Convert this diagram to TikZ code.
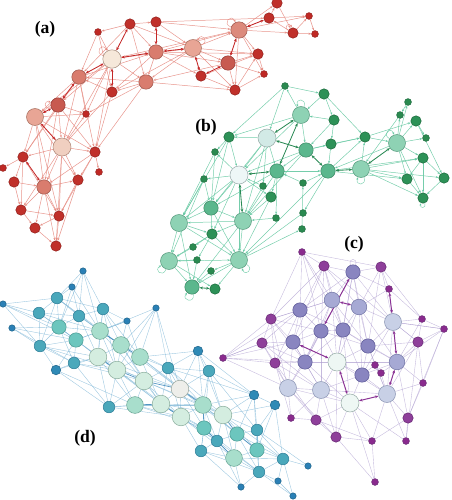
\documentclass[tikz,border=0pt]{standalone}
\usepackage{fontspec}
\setmainfont{Liberation Serif}
\usetikzlibrary{arrows.meta,backgrounds}
\definecolor{redline}{HTML}{E58A80}
\definecolor{redbold}{HTML}{C42828}
\definecolor{greenline}{HTML}{66C8A2}
\definecolor{greenbold}{HTML}{2A8A55}
\definecolor{purpleline}{HTML}{AD9CCF}
\definecolor{purplebold}{HTML}{8A3294}
\definecolor{blueline}{HTML}{73B0D3}
\definecolor{bluebold}{HTML}{3A86BA}
\begin{document}
\begin{tikzpicture}[x=0.05cm,y=-0.05cm]
\tikzstyle{base node}=[circle,inner sep=0pt,line width=0.8pt]
\tikzstyle{panel label}=[font=\bfseries\fontsize{25}{27}\selectfont]
\tikzset{
	red cream/.style={base node,fill={rgb,255:red,246;green,232;blue,218},draw={rgb,255:red,168;green,144;blue,128},minimum size=0.92cm},
	red peach/.style={base node,fill={rgb,255:red,240;green,207;blue,192},draw={rgb,255:red,176;green,136;blue,120},minimum size=0.9cm},
	red light/.style={base node,fill={rgb,255:red,232;green,165;blue,149},draw={rgb,255:red,168;green,112;blue,96},minimum size=0.85cm},
	red rose/.style={base node,fill={rgb,255:red,220;green,138;blue,124},draw={rgb,255:red,160;green,88;blue,78},minimum size=0.82cm},
	red salmon/.style={base node,fill={rgb,255:red,217;green,124;blue,110},draw={rgb,255:red,160;green,88;blue,78},minimum size=0.72cm},
	red brick/.style={base node,fill={rgb,255:red,200;green,90;blue,80},draw={rgb,255:red,150;green,60;blue,54},minimum size=0.72cm},
	red dark/.style={base node,fill={rgb,255:red,192;green,48;blue,42},draw={rgb,255:red,150;green,36;blue,32},minimum size=0.52cm},
	red tiny/.style={base node,fill={rgb,255:red,192;green,40;blue,36},draw={rgb,255:red,150;green,36;blue,32},minimum size=0.34cm},
	green white/.style={base node,fill={rgb,255:red,238;green,247;blue,247},draw={rgb,255:red,160;green,176;blue,176},minimum size=0.9cm},
	green pale/.style={base node,fill={rgb,255:red,210;green,234;blue,230},draw={rgb,255:red,152;green,172;blue,168},minimum size=0.9cm},
	green light/.style={base node,fill={rgb,255:red,142;green,210;blue,180},draw={rgb,255:red,90;green,156;blue,128},minimum size=0.85cm},
	green mid/.style={base node,fill={rgb,255:red,91;green,183;blue,141},draw={rgb,255:red,61;green,138;blue,102},minimum size=0.72cm},
	green dark/.style={base node,fill={rgb,255:red,45;green,145;blue,87},draw={rgb,255:red,31;green,110;blue,64},minimum size=0.52cm},
	green tiny/.style={base node,fill={rgb,255:red,42;green,138;blue,80},draw={rgb,255:red,31;green,110;blue,64},minimum size=0.34cm},
	purple white/.style={base node,fill={rgb,255:red,238;green,247;blue,244},draw={rgb,255:red,154;green,174;blue,170},minimum size=0.9cm},
	purple pale/.style={base node,fill={rgb,255:red,200;green,208;blue,230},draw={rgb,255:red,140;green,150;blue,180},minimum size=0.85cm},
	purple lav/.style={base node,fill={rgb,255:red,166;green,169;blue,212},draw={rgb,255:red,116;green,120;blue,168},minimum size=0.78cm},
	purple blue/.style={base node,fill={rgb,255:red,137;green,133;blue,192},draw={rgb,255:red,94;green,90;blue,152},minimum size=0.72cm},
	purple dark/.style={base node,fill={rgb,255:red,142;green,63;blue,154},draw={rgb,255:red,106;green,42;blue,118},minimum size=0.52cm},
	purple tiny/.style={base node,fill={rgb,255:red,138;green,42;blue,142},draw={rgb,255:red,106;green,42;blue,118},minimum size=0.34cm},
	blue white/.style={base node,fill={rgb,255:red,238;green,238;blue,234},draw={rgb,255:red,154;green,168;blue,160},minimum size=0.88cm},
	blue pale/.style={base node,fill={rgb,255:red,212;green,237;blue,224},draw={rgb,255:red,142;green,176;blue,160},minimum size=0.88cm},
	blue light/.style={base node,fill={rgb,255:red,168;green,222;blue,204},draw={rgb,255:red,110;green,168;blue,152},minimum size=0.84cm},
	blue teal/.style={base node,fill={rgb,255:red,108;green,198;blue,190},draw={rgb,255:red,74;green,154;blue,148},minimum size=0.72cm},
	blue mid/.style={base node,fill={rgb,255:red,74;green,168;blue,187},draw={rgb,255:red,48;green,128;blue,154},minimum size=0.58cm},
	blue dark/.style={base node,fill={rgb,255:red,47;green,138;blue,182},draw={rgb,255:red,34;green,104;blue,142},minimum size=0.48cm},
	blue tiny/.style={base node,fill={rgb,255:red,42;green,128;blue,182},draw={rgb,255:red,34;green,104;blue,142},minimum size=0.32cm},
	a edge/.style={draw=redline,draw opacity=0.9,line width=0.7pt,-{Stealth[length=4pt,width=3pt]}},
	a bold/.style={draw=redbold,line width=1.2pt,{Stealth[length=5pt,width=4pt]}-{Stealth[length=5pt,width=4pt]}},
	b edge/.style={draw=greenline,draw opacity=0.9,line width=0.7pt,-{Stealth[length=4pt,width=3pt]}},
	b bold/.style={draw=greenbold,line width=1.2pt,{Stealth[length=5pt,width=4pt]}-{Stealth[length=5pt,width=4pt]}},
	c edge/.style={draw=purpleline,draw opacity=0.7,line width=0.55pt},
	c bold/.style={draw=purplebold,line width=1.4pt,{Stealth[length=5pt,width=4pt]}-{Stealth[length=5pt,width=4pt]}},
	d edge/.style={draw=blueline,draw opacity=0.7,line width=0.55pt},
	d bold/.style={draw=bluebold,draw opacity=0.85,line width=1pt},
	self loop/.style={line width=0.6pt,looseness=4}
}
\useasboundingbox (0,0) rectangle (451,500);

\node[panel label] (la) at (45,29) {(a)};
\node[panel label] (lb) at (206,127) {(b)};
\node[panel label] (lc) at (354,244) {(c)};
\node[panel label] (ld) at (85,438) {(d)};

\foreach \n/\x/\y/\s in {1/130/24/red dark,2/156/22/red dark,3/98/32/red tiny,4/112/59/red cream,
	5/156/52/red salmon,6/193/48/red light,7/146/82/red salmon,8/112/92/red dark,9/79/77/red salmon,
	10/58/105/red brick,11/86/114/red tiny,12/35/117/red light,13/62/147/red peach,14/95/152/red dark,
	15/99/172/red tiny,16/23/157/red dark,17/3/168/red tiny,18/14/182/red dark,19/44/187/red salmon,
	20/78/180/red dark,21/21/210/red dark,22/59/216/red dark,23/35/228/red dark,24/56/246/red dark,
	25/201/76/red dark,26/239/30/red rose,27/228/63/red brick,28/235/90/red dark,29/258/54/red dark,
	30/264/74/red tiny,31/277/3/red dark,32/269/18/red dark,33/293/33/red dark,34/309/16/red tiny,35/315/34/red tiny}
	\node[\s] (a\n) at (\x,\y) {};

\foreach \n/\x/\y/\s in {1/285/86/green tiny,2/324/94/green dark,3/301/115/green light,4/334/120/green dark,
	5/229/137/green dark,6/267/138/green pale,7/306/150/green mid,8/331/144/green dark,9/215/152/green tiny,
	10/239/175/green white,11/277/171/green mid,12/328/171/green mid,13/361/169/green light,14/365/137/green dark,
	15/397/143/green light,16/408/102/green tiny,17/400/115/green tiny,18/416/121/green dark,19/426/138/green tiny,
	20/423/158/green dark,21/407/179/green dark,22/444/178/green dark,23/423/198/green dark,24/204/179/green tiny,
	25/263/186/green tiny,26/303/183/green tiny,27/271/197/green dark,28/211/208/green mid,29/243/221/green light,
	30/276/218/green tiny,31/303/213/green tiny,32/302/229/green tiny,33/179/223/green light,34/212/234/green dark,
	35/193/247/green tiny,36/197/260/green tiny,37/169/261/green light,38/239/260/green light,39/211/271/green tiny,
	40/192/287/green mid,41/215/289/green dark}
	\node[\s] (b\n) at (\x,\y) {};

\foreach \n/\x/\y/\s in {1/302/252/purple tiny,2/324/266/purple dark,3/353/272/purple blue,4/381/267/purple dark,
	5/389/289/purple tiny,6/332/300/purple lav,7/359/307/purple lav,8/300/310/purple blue,9/271/319/purple dark,
	10/393/322/purple pale,11/422/319/purple tiny,12/444/329/purple tiny,13/321/331/purple blue,14/343/330/purple blue,
	15/262/343/purple dark,16/293/342/purple blue,17/368/346/purple blue,18/418/342/purple dark,19/223/358/purple tiny,
	20/275/363/purple dark,21/305/362/purple blue,22/337/362/purple white,23/375/365/purple tiny,24/397/362/purple lav,
	25/381/373/purple tiny,26/362/375/purple blue,27/288/388/purple pale,28/321/390/purple pale,29/423/383/purple tiny,
	30/387/394/purple pale,31/350/403/purple white,32/291/418/purple tiny,33/316/420/purple dark,34/408/418/purple dark,
	35/336/437/purple dark,36/372/441/purple tiny,37/406/441/purple tiny,38/375/482/purple tiny}
	\node[\s] (c\n) at (\x,\y) {};

\foreach \n/\x/\y/\s in {1/83/271/blue tiny,2/72/287/blue tiny,3/57/298/blue mid,4/3/304/blue tiny,
	5/39/313/blue mid,6/79/316/blue mid,7/103/309/blue mid,8/156/308/blue tiny,9/127/321/blue tiny,
	10/12/328/blue tiny,11/59/327/blue teal,12/100/331/blue light,13/76/340/blue teal,14/121/345/blue light,
	15/40/346/blue mid,16/98/357/blue pale,17/140/357/blue light,18/198/351/blue dark,19/74/363/blue mid,
	20/56/370/blue dark,21/117/370/blue pale,22/168/368/blue mid,23/209/371/blue mid,24/144/381/blue pale,
	25/180/389/blue white,26/254/395/blue dark,27/109/407/blue mid,28/135/405/blue light,29/161/404/blue pale,
	30/203/405/blue light,31/275/405/blue dark,32/181/417/blue pale,33/223/415/blue pale,34/204/428/blue teal,
	35/257/430/blue mid,36/237/434/blue teal,37/217/441/blue mid,38/257/450/blue teal,39/201/451/blue mid,
	40/234/458/blue light,41/283/459/blue mid,42/308/466/blue tiny,43/259/472/blue mid,44/278/481/blue tiny,
	45/241/487/blue tiny,46/293/496/blue tiny}
	\node[\s] (d\n) at (\x,\y) {};

\begin{pgfonlayer}{background}
\foreach \u/\v in {1/2,1/7,2/6,3/4,4/7,4/6,5/7,5/25,6/26,6/27,7/8,7/9,8/9,9/12,9/11,
	10/13,10/11,12/16,13/14,13/16,13/19,13/20,13/11,14/15,14/20,16/17,16/18,18/19,18/21,19/20,
	19/21,19/22,19/24,21/22,21/23,22/23,22/24,23/24,12/19,12/14,4/13,9/13,7/11,8/14,26/28,26/29,
	26/31,26/33,27/28,27/29,29/30,32/31,32/34,33/34,33/35,34/35,6/28,25/28,2/26,5/26,6/29,4/12,
	9/16,10/16,13/22,20/22,7/28,4/10,1/9,12/11,14/19,3/9,1/5,28/30,4/14,1/3,3/8,4/11,9/14,10/14,
	12/20,13/21,13/24,16/22,19/23,14/22,20/24,7/14,5/8,6/7,26/30,28/29,27/30,25/29,5/27,2/32,
	26/34,33/32,31/33,4/26,1/6,5/29,9/5,12/22,10/19,16/21,8/13,27/7,6/8}
	\draw[a edge] (a\u) -- (a\v);
\foreach \u/\v/\o in {4/160/120,26/160/115,33/150/105,10/200/160,6/20/60}
	\draw[a edge,self loop] (a\u) to[out=\v,in=\o] (a\u);
\foreach \u/\v in {2/5,4/5,4/9,5/6,6/25,9/10,10/12,12/13,16/19,1/4,4/8,25/27,26/27,26/32}
	\draw[a bold] (a\u) -- (a\v);

\foreach \u/\v in {1/2,1/6,2/4,2/3,3/7,3/5,4/7,4/8,6/10,6/5,6/11,7/11,7/8,8/12,13/14,12/14,
	15/17,15/18,15/19,15/20,16/17,18/19,20/21,20/22,20/23,21/23,22/23,13/21,13/23,12/31,11/27,
	10/28,10/24,10/33,10/9,5/9,5/10,9/28,24/28,28/33,28/34,28/29,29/38,29/34,29/33,25/29,27/29,
	30/29,33/37,33/34,34/37,34/38,35/37,36/37,37/40,37/38,38/40,38/41,39/40,38/32,32/26,12/38,
	26/11,10/38,6/25,11/30,5/33,15/21,14/15,18/22,17/13,15/12,7/10,3/10,2/14,1/5,31/38,24/33,
	10/27,10/34,28/38,29/40,33/38,33/40,37/41,34/36,34/35,6/29,5/28,11/29,27/38,26/12,13/22,
	15/23,15/16,12/21,14/18,3/1,4/3,8/14,11/12,7/14,25/10,38/39,9/33,24/37,6/28,11/28,7/29,
	13/20,12/20,36/40}
	\draw[b edge] (b\u) -- (b\v);
\foreach \u/\v/\o in {15/150/110,13/290/250,23/290/250,40/280/230,37/250/210,38/330/290,3/70/110}
	\draw[b edge,self loop] (b\u) to[out=\v,in=\o] (b\u);
\foreach \u/\v in {3/6,3/11,6/7,7/12,11/10,12/13,13/15,10/29,40/41}
	\draw[b bold] (b\u) -- (b\v);

\foreach \u/\v in {1/2,1/8,1/6,1/13,1/9,2/3,2/6,2/8,2/9,2/13,2/14,3/4,3/6,3/7,3/10,3/14,3/5,
	3/17,4/5,4/7,4/10,5/11,5/7,6/8,6/13,6/14,6/16,6/21,6/9,7/10,7/14,7/17,7/22,7/24,8/9,8/13,
	8/15,8/16,8/20,9/15,9/16,9/19,9/20,10/11,10/12,10/17,10/18,10/26,11/12,11/18,12/18,12/29,
	13/14,13/16,13/21,13/22,13/27,14/17,14/22,14/26,14/21,15/16,15/19,15/20,15/27,16/20,16/21,
	16/27,16/28,17/22,17/23,17/24,17/26,17/18,18/24,18/29,18/30,19/20,19/27,20/27,20/21,20/32,
	21/22,21/27,21/28,22/26,22/28,22/30,22/35,23/26,23/25,24/25,24/29,24/34,25/30,26/30,26/31,
	27/28,27/32,27/33,28/31,28/33,28/35,28/32,29/34,29/30,30/34,30/37,30/36,31/35,31/36,31/33,
	31/37,33/35,34/37,35/38,36/38,31/38,2/7,8/14,3/22,13/28,9/27,15/28,18/37,12/34,19/8,1/4,4/11,
	1/14,2/10,4/17,6/22,7/26,8/21,9/21,13/17,14/24,15/21,19/16,19/21,20/28,21/31,22/24,23/30,
	24/26,26/28,27/31,28/30,32/33,33/36,34/36,35/36,10/30,11/24,12/24,12/10,17/30,3/8,2/16,6/17,
	9/13,5/24,18/10,19/15,20/33,27/35,14/31,3/21}
	\draw[c edge] (c\u) -- (c\v);
\draw[c edge,self loop] (c3) to[out=70,in=110] (c3);
\foreach \u/\v in {6/7,16/22,22/31,30/31,24/30,5/10,10/24,3/13}
	\draw[c bold] (c\u) -- (c\v);

\foreach \u/\v in {1/3,1/6,1/7,2/3,2/6,2/11,3/5,3/6,3/11,3/7,3/12,4/5,4/11,4/15,5/11,5/15,5/6,
	5/13,6/7,6/11,6/12,6/13,6/14,7/12,7/14,7/9,7/17,8/14,8/17,8/12,8/22,8/21,9/12,9/14,10/11,
	10/15,10/13,11/12,11/13,11/15,11/19,12/13,12/16,12/21,12/17,13/16,13/19,13/15,13/20,14/16,
	14/21,14/24,14/22,15/19,15/20,15/16,16/19,16/24,16/27,16/28,17/21,17/22,17/25,17/18,18/22,
	18/23,18/25,18/30,19/20,19/21,19/27,20/27,20/16,21/28,21/27,21/25,22/23,22/24,22/25,22/29,
	22/30,23/25,23/26,23/30,23/33,24/28,24/29,24/32,25/29,25/32,25/33,25/34,26/30,26/33,26/35,
	26/31,26/36,27/28,27/29,28/32,29/30,29/34,30/32,30/33,30/36,30/37,31/33,31/35,31/38,32/34,
	32/37,32/39,33/35,33/37,33/40,34/39,34/40,35/36,35/38,35/41,36/37,36/40,37/39,38/40,38/41,
	38/43,39/40,39/43,39/45,40/43,40/45,40/41,41/42,41/43,41/44,41/46,43/44,43/45,43/46,44/46,
	8/25,1/12,9/17,14/29,21/29,7/16,3/15,18/26,35/42,22/33,24/30,16/29,28/34,29/33,
	3/14,5/12,11/16,13/21,15/21,19/24,20/28,12/24,14/25,16/25,21/32,24/33,28/30,29/37,32/40,
	25/36,30/38,33/41,34/43,36/41,37/43,22/26,17/30,18/33,23/35,26/38,31/41,35/43,4/3,4/13,
	10/19,27/32,27/24,39/34,1/11,9/13,2/12,6/16,7/21,17/29,22/32,23/34,33/38,36/43,37/45}
	\draw[d edge] (d\u) -- (d\v);
\foreach \u/\v in {12/14,14/17,16/21,21/24,24/25,28/29,29/32,25/30,30/34,33/36,34/37,37/40,36/38}
	\draw[d bold] (d\u) -- (d\v);
\end{pgfonlayer}
\end{tikzpicture}
\end{document}
